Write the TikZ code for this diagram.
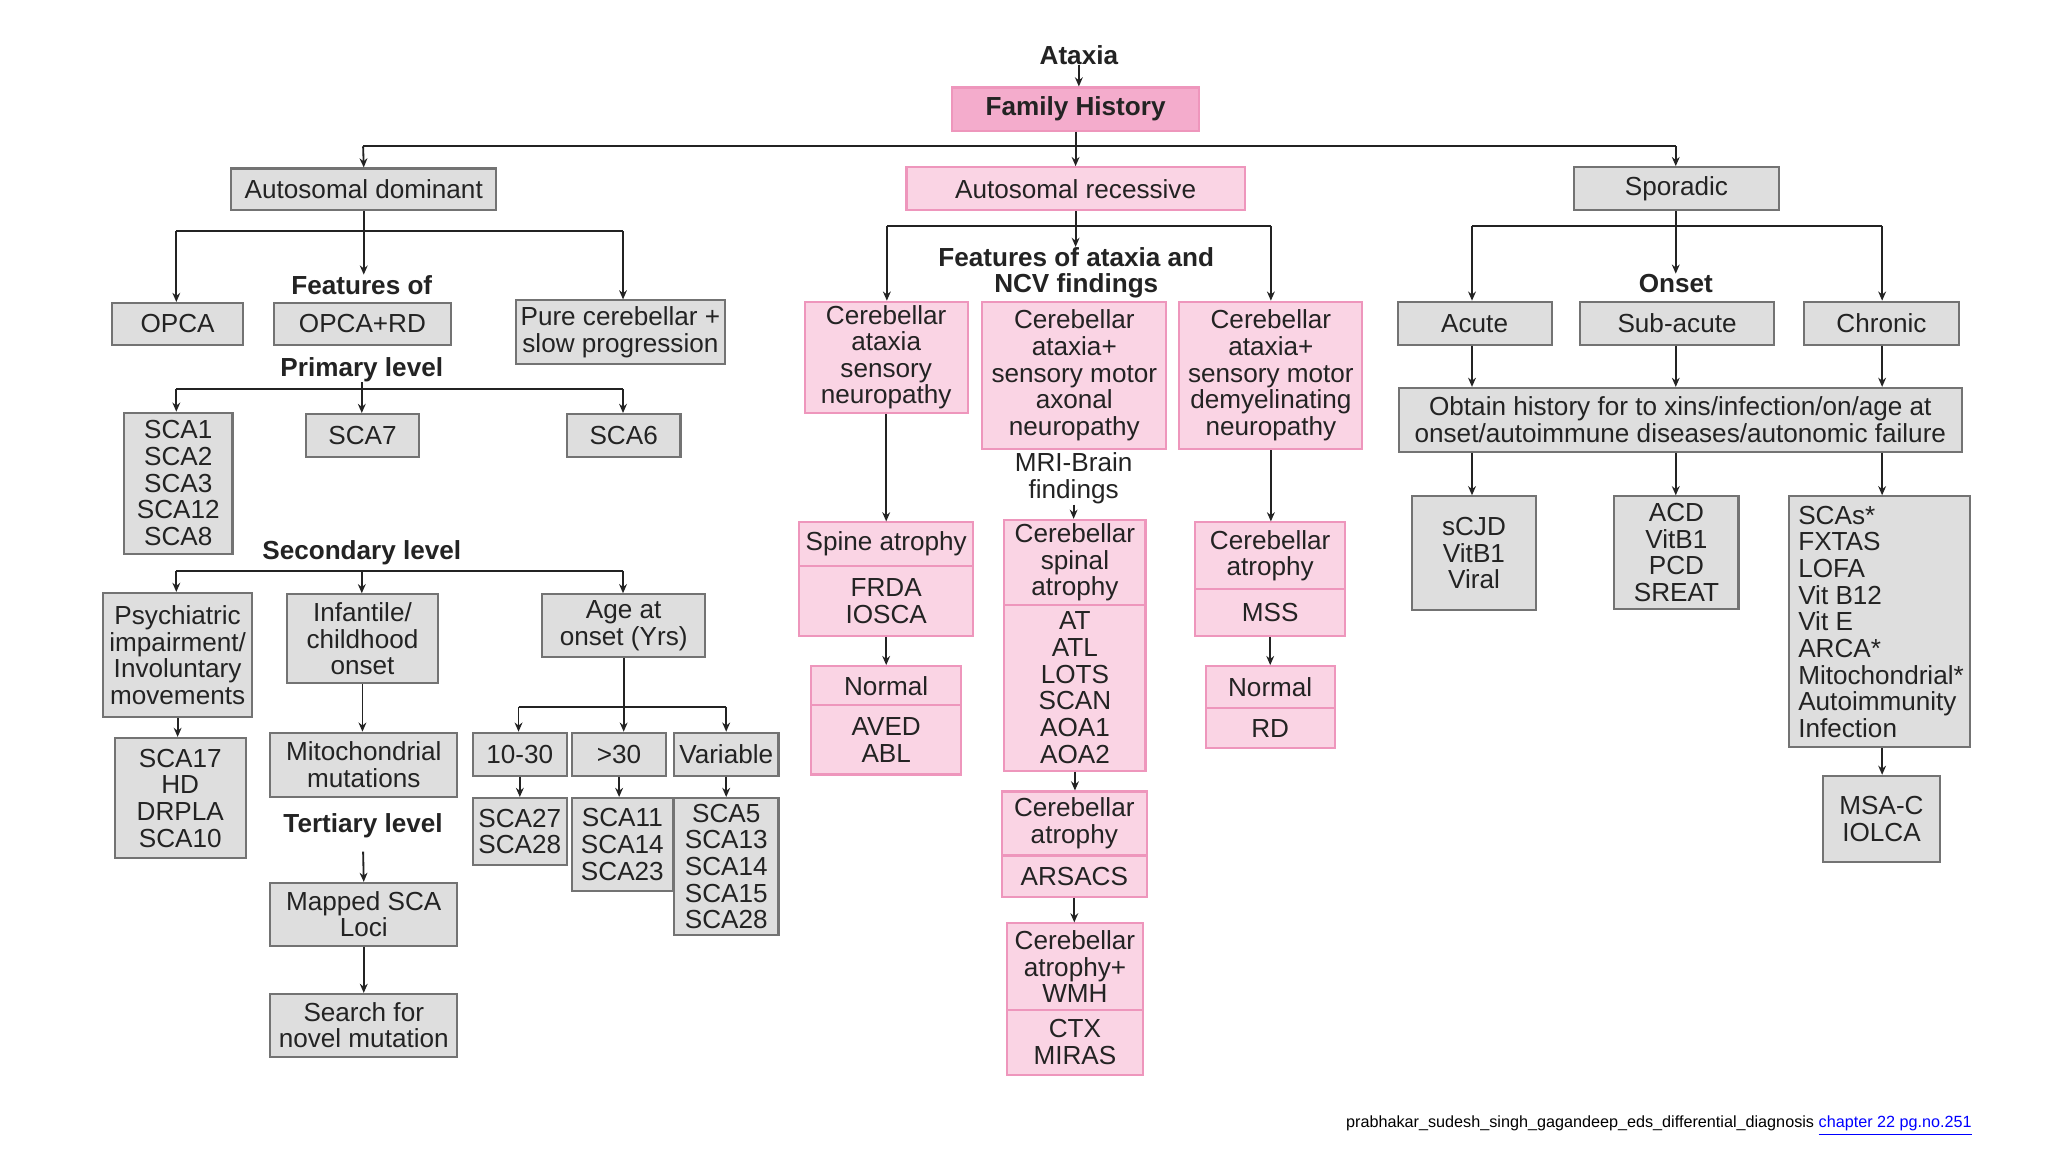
\documentclass[tikz,border=0pt]{standalone}
\usepackage{fontspec}
\setmainfont{Liberation Sans}
\usetikzlibrary{fit,arrows.meta}
\definecolor{pk}{RGB}{250,212,228}
\definecolor{pkd}{RGB}{238,150,188}
\definecolor{pkh}{RGB}{244,172,204}
\definecolor{gf}{RGB}{222,222,222}
\definecolor{gd}{RGB}{115,115,115}
\definecolor{tx}{RGB}{35,35,35}
\tikzset{
 base/.style={inner sep=0pt,align=center,text=tx,font=\fontsize{10}{10.2}\selectfont,line width=0.8pt},
 pb/.style={base,fill=pk,draw=pkd},
 gb/.style={base,fill=gf,draw=gd},
 lb/.style={inner sep=0pt,align=center,text=tx,font=\fontsize{10}{10.2}\selectfont\bfseries},
 ln/.style={line width=0.7pt,draw=tx},
 ar/.style={ln,-{Stealth[length=3.5pt,width=3pt]}}
}
\newcommand\bx[7]{\node[#1,fit={(#3,#4)(#5,#6)}] (#2) {}; \node[base,draw=none,fill=none] at (#2.center) {#7};}
\begin{document}
\begin{tikzpicture}[x=0.5pt,y=-0.5pt]
\useasboundingbox[fill=white] (0,0) rectangle (1568,882);
% top
\node[lb] (ataxia) at (826,42) {Ataxia};
\node[base,fill=pkh,draw=pkd,fit={(729,67)(918,100)}] (fh) {};
\node[lb] at (fh.center) {Family History};
\draw[ar] (ataxia.south) -- (ataxia.south|-fh.north);
\bx{gb}{ad}{177}{129}{380}{161}{Autosomal dominant}
\bx{pb}{arc}{694}{128}{953}{161}{Autosomal recessive}
\bx{gb}{sp}{1205}{128}{1362}{161}{Sporadic}
\coordinate (tL) at (278,112); \coordinate (tR) at (1283,112);
\draw[ln] (fh.south) -- (fh.south|-tL); \draw[ln] (tL) -- (tR);
\draw[ar] (tL) -- (ad.north); \draw[ar] (fh.south|-tL) -- (fh.south|-arc.north); \draw[ar] (tR) -- (tR|-sp.north);
% ===== AD
\bx{gb}{opca}{86}{232}{186}{264}{OPCA}
\bx{gb}{opcard}{210}{232}{345}{264}{OPCA+RD}
\bx{gb}{pure}{395}{230}{555}{279}{Pure cerebellar +\\slow progression}
\node[lb] (feat) at (277,218) {Features of};
\coordinate (aL) at (135,177); \coordinate (aR) at (477,177);
\draw[ln] (ad.south) -- (ad.south|-aL); \draw[ln] (aL) -- (aR);
\draw[ar] (aL) -- (aL|-opca.north); \draw[ar] (ad.south|-aL) -- (ad.south|-feat.north); \draw[ar] (aR) -- (aR|-pure.north);
\node[lb] (prim) at (277,283) {Primary level};
\bx{gb}{sca1}{95}{316}{178}{424}{SCA1\\SCA2\\SCA3\\SCA12\\SCA8}
\bx{gb}{sca7}{234}{317}{321}{350}{SCA7}
\bx{gb}{sca6}{434}{317}{521}{350}{SCA6}
\coordinate (pL) at (135,298); \coordinate (pR) at (477,298);
\draw[ln] (prim.south) -- (prim.south|-pL); \draw[ln] (pL) -- (pR);
\draw[ar] (pL) -- (pL|-sca1.north); \draw[ar] (prim.south|-pL) -- (prim.south|-sca7.north); \draw[ar] (pR) -- (pR|-sca6.north);
\node[lb] (sec) at (277,423) {Secondary level};
\bx{gb}{psy}{79}{454}{193}{549}{Psychiatric\\impairment/\\Involuntary\\movements}
\bx{gb}{inf}{220}{455}{335}{523}{Infantile/\\childhood\\onset}
\bx{gb}{age}{415}{455}{540}{503}{Age at\\onset (Yrs)}
\coordinate (sL) at (135,437); \coordinate (sR) at (477,437);
\draw[ln] (sL) -- (sR);
\draw[ar] (sL) -- (sL|-psy.north); \draw[ar] (sec.south|-sL) -- (sec.south|-inf.north); \draw[ar] (sR) -- (sR|-age.north);
\bx{gb}{sca17}{88}{565}{188}{657}{SCA17\\HD\\DRPLA\\SCA10}
\draw[ar] (psy.south) -- (psy.south|-sca17.north);
\bx{gb}{mito}{207}{561}{350}{610}{Mitochondrial\\mutations}
\draw[ar] (inf.south) -- (inf.south|-mito.north);
\bx{gb}{a1}{362}{561}{434}{594}{10-30}
\bx{gb}{a2}{438}{561}{510}{594}{>30}
\bx{gb}{a3}{516}{561}{596}{594}{Variable}
\coordinate (gL) at (397,541); \coordinate (gR) at (556,541);
\draw[ln] (age.south) -- (age.south|-gL); \draw[ln] (gL) -- (gR);
\draw[ar] (gL) -- (gL|-a1.north); \draw[ar] (age.south|-gL) -- (age.south|-a2.north); \draw[ar] (gR) -- (gR|-a3.north);
\bx{gb}{b1}{362}{611}{434}{662}{SCA27\\SCA28}
\bx{gb}{b2}{438}{611}{515}{682}{SCA11\\SCA14\\SCA23}
\bx{gb}{b3}{516}{611}{596}{716}{SCA5\\SCA13\\SCA14\\SCA15\\SCA28}
\draw[ar] (a1.south) -- (a1.south|-b1.north); \draw[ar] (a2.south) -- (a2.south|-b2.north); \draw[ar] (a3.south) -- (a3.south|-b3.north);
\node[lb] (ter) at (278,632) {Tertiary level};
\bx{gb}{map}{207}{676}{350}{724}{Mapped SCA\\Loci}
\bx{gb}{srch}{207}{761}{350}{809}{Search for\\novel mutation}
\draw[ar] (ter.south|-0,652) -- (map.north); \draw[ar] (map.south) -- (srch.north);
% ===== AR
\node[lb] (nfeat) at (824,209) {Features of ataxia and\\NCV findings};
\bx{pb}{l1}{616}{231}{741}{316}{Cerebellar\\ataxia\\sensory\\neuropathy}
\bx{pb}{m1}{752}{231}{893}{344}{Cerebellar\\ataxia+\\sensory motor\\axonal\\neuropathy}
\bx{pb}{r1}{903}{231}{1043}{344}{Cerebellar\\ataxia+\\sensory motor\\demyelinating\\neuropathy}
\coordinate (rL) at (679,173); \coordinate (rR) at (973,173);
\draw[ln] (arc.south) -- (arc.south|-rL); \draw[ln] (rL) -- (rR);
\draw[ar] (rL) -- (rL|-l1.north); \draw[ar] (arc.south|-rL) -- (arc.south|-nfeat.north); \draw[ar] (rR) -- (rR|-r1.north);
\node[base] (mri) at (822,366) {MRI-Brain\\findings};
\bx{pb}{l2}{612}{400}{745}{433}{Spine atrophy}
\bx{pb}{l3}{612}{433}{745}{487}{FRDA\\IOSCA}
\bx{pb}{l4}{621}{510}{736}{540}{Normal}
\bx{pb}{l5}{621}{540}{736}{593}{AVED\\ABL}
\draw[ar] (l1.south) -- (l1.south|-l2.north); \draw[ar] (l3.south) -- (l3.south|-l4.north);
\bx{pb}{m2}{769}{398}{877}{463}{Cerebellar\\spinal\\atrophy}
\bx{pb}{m3}{769}{463}{877}{590}{AT\\ATL\\LOTS\\SCAN\\AOA1\\AOA2}
\bx{pb}{m4}{767}{606}{878}{655}{Cerebellar\\atrophy}
\bx{pb}{m5}{767}{655}{878}{687}{ARSACS}
\bx{pb}{m6}{771}{707}{875}{773}{Cerebellar\\atrophy+\\WMH}
\bx{pb}{m7}{771}{773}{875}{823}{CTX\\MIRAS}
\draw[ar] (mri.south) -- (mri.south|-m2.north); \draw[ar] (m3.south) -- (m3.south|-m4.north); \draw[ar] (m5.south) -- (m5.south|-m6.north);
\bx{pb}{r2}{915}{400}{1030}{451}{Cerebellar\\atrophy}
\bx{pb}{r3}{915}{451}{1030}{487}{MSS}
\bx{pb}{r4}{923}{510}{1022}{542}{Normal}
\bx{pb}{r5}{923}{542}{1022}{573}{RD}
\draw[ar] (r1.south) -- (r1.south|-r2.north); \draw[ar] (r3.south) -- (r3.south|-r4.north);
% ===== Sporadic
\node[lb] (onset) at (1283,217) {Onset};
\bx{gb}{acu}{1070}{231}{1188}{264}{Acute}
\bx{gb}{sub}{1210}{231}{1358}{264}{Sub-acute}
\bx{gb}{chr}{1381}{231}{1500}{264}{Chronic}
\coordinate (oL) at (1127,173); \coordinate (oR) at (1441,173);
\draw[ln] (sp.south-|tR) -- (tR|-oL); \draw[ln] (oL) -- (oR);
\draw[ar] (oL) -- (oL|-acu.north); \draw[ar] (tR|-oL) -- (tR|-onset.north); \draw[ar] (oR) -- (oR|-chr.north);
\bx{gb}{hist}{1071}{297}{1502}{346}{Obtain history for to xins/infection/on/age at\\onset/autoimmune diseases/autonomic failure}
\draw[ar] (acu.south-|oL) -- (oL|-hist.north); \draw[ar] (sub.south-|tR) -- (tR|-hist.north); \draw[ar] (chr.south-|oR) -- (oR|-hist.north);
\bx{gb}{c1}{1081}{380}{1176}{467}{sCJD\\VitB1\\Viral}
\bx{gb}{c2}{1236}{380}{1331}{466}{ACD\\VitB1\\PCD\\SREAT}
\node[gb,fit={(1370,380)(1508,572)}] (c3) {};
\node[base,align=left,anchor=west] at (1376,476) {SCAs*\\FXTAS\\LOFA\\Vit B12\\Vit E\\ARCA*\\Mitochondrial*\\Autoimmunity\\Infection};
\draw[ar] (oL|-hist.south) -- (oL|-c1.north); \draw[ar] (tR|-hist.south) -- (tR|-c2.north); \draw[ar] (oR|-hist.south) -- (oR|-c3.north);
\bx{gb}{c4}{1396}{594}{1485}{660}{MSA-C\\IOLCA}
\draw[ar] (oR|-c3.south) -- (oR|-c4.north);
% footer
\node[inner sep=0pt,anchor=east,font=\fontsize{6.2}{7}\selectfont] (foot) at (1510,862) {prabhakar\_sudesh\_singh\_gagandeep\_eds\_differential\_diagnosis \textcolor{blue}{\underline{chapter 22 pg.no.251}}};
\end{tikzpicture}
\end{document}
